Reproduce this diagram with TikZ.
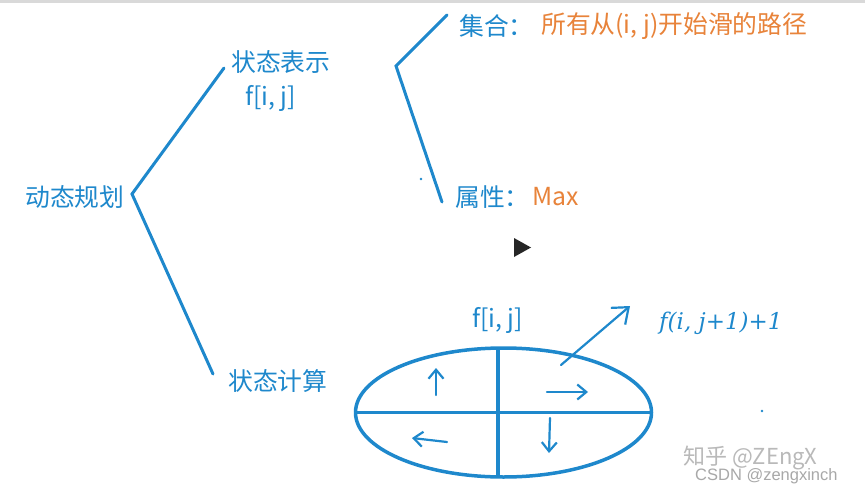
\documentclass[tikz,border=0pt]{standalone}
\usepackage{fontspec}
\setmainfont{Noto Sans CJK SC}
\newfontfamily\cjk{Noto Sans CJK SC}
\newfontfamily\wmfont{Liberation Sans}
\usetikzlibrary{arrows.meta,shapes.geometric}
\definecolor{dpblue}{HTML}{1E88CC}
\definecolor{dporange}{HTML}{E8833A}
\definecolor{wmgray}{HTML}{A8A8A8}
\tikzset{
  lbl/.style={inner sep=0pt, anchor=west, text=dpblue, font=\cjk\fontsize{24.8}{26}\selectfont},
  olbl/.style={inner sep=0pt, anchor=west, text=dporange, font=\cjk\fontsize{24.8}{26}\selectfont},
  brace/.style={draw=dpblue, line width=3pt, line cap=round, line join=miter},
  ink/.style={draw=dpblue, line width=2.2pt, line cap=round, line join=round},
  hand/.style={ink, -{Straight Barb[length=9pt,width=15pt,line width=2.2pt]}},
}
\begin{document}
\begin{tikzpicture}[x=1pt,y=-1pt]
\useasboundingbox (0,0) rectangle (865,495);
\fill[white] (0,0) rectangle (865,495);
\fill[gray!30] (0,0) rectangle (865,3);

% texts
\node[lbl] (dp) at (25,197) {动态规划};
\node[lbl] (rep) at (231,62) {状态表示};
\node[lbl] (fij1) at (245,98) {f[i, j]};
\node[lbl] (set) at (459,26) {集合：};
\node[olbl] (setv) at (541,26) {所有从(i, j)开始滑的路径};
\node[lbl] (attr) at (455,197) {属性：};
\node[olbl] (attrv) at (532,197) {Max};
\node[lbl] (calc) at (228,381) {状态计算};
\node[lbl] (fij2) at (472,320) {f[i, j]};

% first bracket
\coordinate (b1) at (132,194);
\coordinate (b1t) at (224,68);
\coordinate (b1b) at (213,374);
\draw[brace] (b1t) -- (b1) -- (b1b);

% second bracket
\coordinate (b2) at (396,66);
\coordinate (b2t) at (447,15);
\coordinate (b2b) at (442,202);
\draw[brace] (b2t) -- (b2) -- (b2b);
\fill[dpblue] (421,179) circle (1.3pt);

% cursor triangle
\fill[black!85] (514,238) -- (514,257) -- (531,247.5) -- cycle;

% ellipse
\node[draw=dpblue, line width=3.5pt, ellipse, minimum width=296pt, minimum height=129pt, inner sep=0pt] (ell) at (503.5,412.5) {};
\coordinate (vt) at (498,348);
\coordinate (vb) at (498,477);
\draw[ink, line width=3.2pt, line cap=butt] (vt) -- (vb);
\draw[ink, line width=3.2pt, line cap=butt] (ell.west) -- (ell.east);

% quadrant arrows
\draw[hand] (436,395) -- (436,368);
\draw[hand] (547,392) -- (588,392);
\draw[hand] (447,442) -- (412,438);
\draw[hand] (550,418) -- (549,453);
\draw[hand, -{Straight Barb[length=14pt,width=22pt,line width=2.2pt]}] (561,365) -- (630,306);

% handwritten formula
\node[inner sep=0pt, anchor=west, text=dpblue, font=\fontspec{DejaVu Serif}\itshape\fontsize{23}{25}\selectfont] (hw) at (659,323) {f(i, j+1)+1};
\fill[dpblue] (762,411) circle (1.3pt);

% watermark
\node[inner sep=0pt, anchor=west, text=wmgray!80, font=\cjk\fontsize{22}{24}\selectfont] (wm1) at (683,458) {知乎 @ZEngX};
\node[inner sep=0pt, anchor=west, text=wmgray, font=\wmfont\fontsize{16.5}{18}\selectfont] (wm2) at (695,476) {CSDN @zengxinch};
\end{tikzpicture}
\end{document}
